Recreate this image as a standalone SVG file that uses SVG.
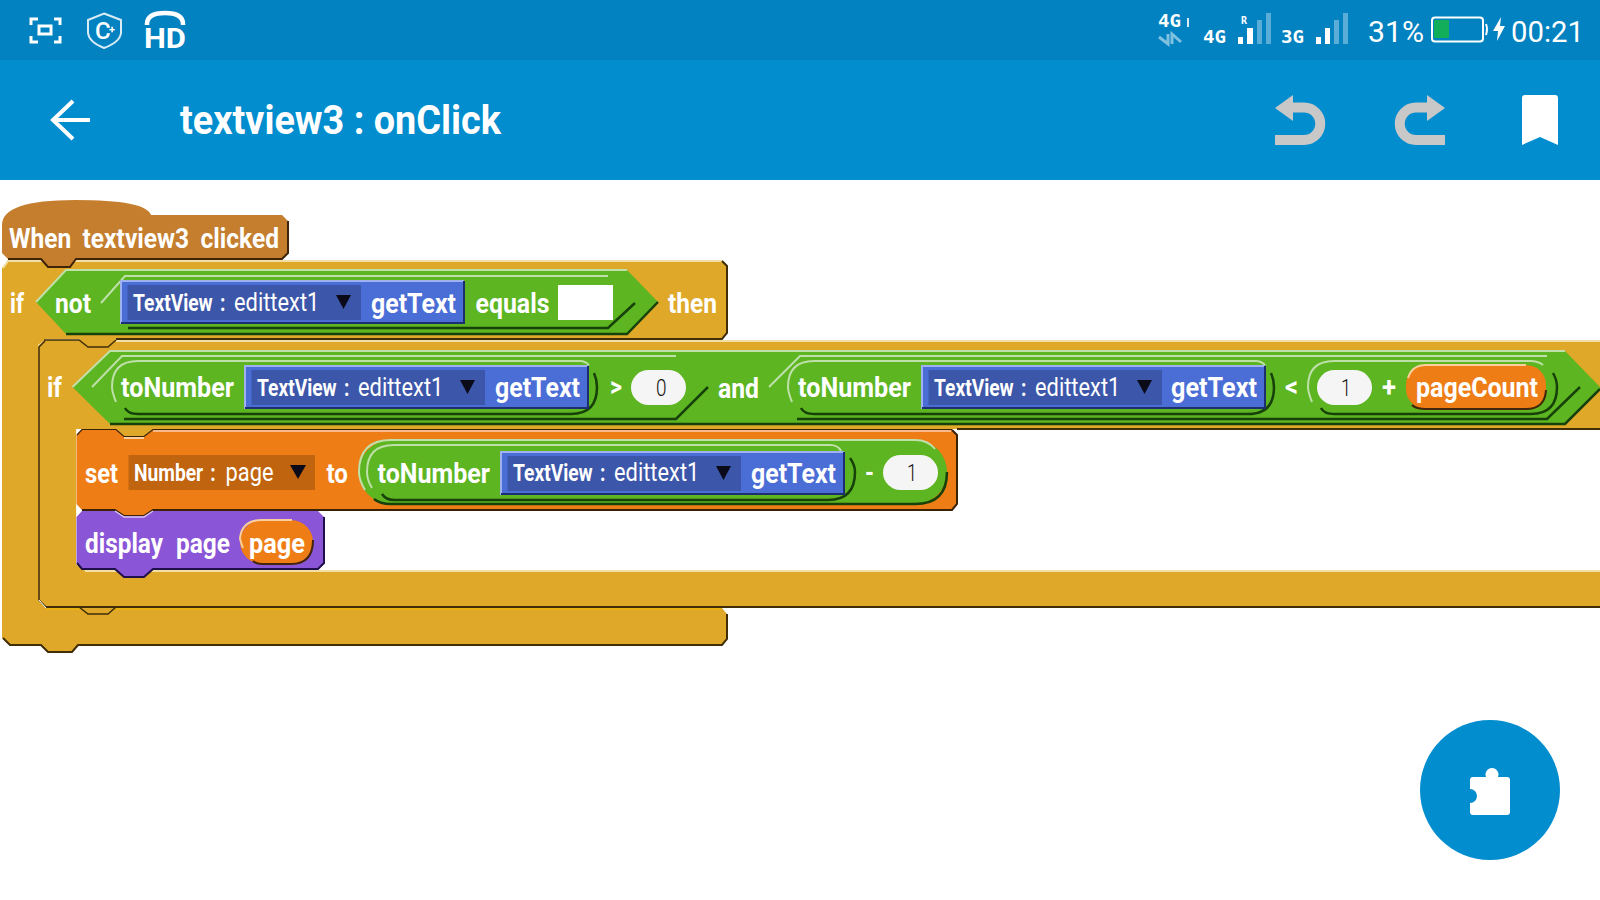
<svg xmlns="http://www.w3.org/2000/svg" width="1600" height="900" viewBox="0 0 1600 900">
<defs>
<style>
text{font-family:Roboto,"Liberation Sans",sans-serif}
.t{font-size:28px;font-weight:700;fill:#fff}
.r{font-size:26px;font-weight:400;fill:#fff}
.b{font-size:24px;font-weight:700;fill:#fff;word-spacing:3px}
.n{font-size:24px;font-weight:300;fill:#111}
.li{fill:none;stroke:#bfe0a8;stroke-width:2}
.dk{fill:none;stroke:#17400a;stroke-width:2.500}
.gl{fill:none;stroke:#f2dfa6;stroke-width:2}
.gd{fill:none;stroke:#3f2e08;stroke-width:2}
.gold{fill:#dfa829}
.gr{fill:#5cb521}
.blue{fill:#4a6dd6}
.bd{fill:#3c56a9}
.bl{fill:none;stroke:#9fb2ee;stroke-width:2}
.bk{fill:none;stroke:#1d2f70;stroke-width:2}
.ol{fill:#ee7d16}
.tri{fill:#0a0a18}
.pill{fill:#f5f5f5}
.ic{fill:none;stroke:#fff;stroke-width:3}
.ug{fill:none;stroke:#c8c8c8;stroke-width:10}
.st{font-weight:700;fill:#fff;font-family:"DejaVu Sans Mono","Liberation Mono",monospace}
</style>
<g id="getTextBlock">
<rect class="blue" x="0" y="0" width="344" height="44"/>
<rect class="bd" x="7.500" y="5" width="233.500" height="35"/>
<path class="bl" d="M1,44V1H344"/>
<path class="bk" d="M344,1V43H1"/>
<path class="tri" d="M216,15h15l-7.500,14z"/>
</g>
</defs>

<rect width="1600" height="900" fill="#fff"/>

<g id="status-bar">
<rect width="1600" height="60" fill="#0282c0"/>
<path class="ic" d="M31,25V19h7M54,19h6v6M60,36v6h-6M38,42h-7v-6"/>
<rect class="ic" x="39" y="26" width="12" height="8"/>
<path d="M104,13.500 121,20V33Q120,42 104,48 89,42 88,33V20Z" fill="none" stroke="#fff" stroke-opacity=".85" stroke-width="2"/>
<text x="95" y="39" font-size="24" fill="#fff" style="font-weight:500">C</text>
<text x="109" y="33" font-size="11" fill="#fff" style="font-weight:700">+</text>
<path d="M147,25V24Q147,13 165,13 183,13 183,24V25" fill="none" stroke="#fff" stroke-width="4.500"/>
<text x="144" y="48" font-size="27" fill="#fff" style="font-weight:700" textLength="42" lengthAdjust="spacingAndGlyphs">HD</text>
<text class="st" x="1158" y="27" font-size="17" textLength="23" lengthAdjust="spacingAndGlyphs">4G</text>
<rect x="1187" y="18" width="2" height="9" fill="#fff" opacity=".85"/>
<path d="M1159,37 1168,44V34M1172,44V34L1181,42" fill="none" stroke="#fff" stroke-opacity=".5" stroke-width="3"/>
<text class="st" x="1203" y="43" font-size="17" textLength="23" lengthAdjust="spacingAndGlyphs">4G</text>
<text class="st" x="1241" y="24" font-size="10" textLength="6" lengthAdjust="spacingAndGlyphs">R</text>
<g fill="#fff">
<rect x="1238" y="37" width="5" height="7"/><rect x="1247" y="28" width="6" height="16"/>
<rect x="1257" y="20" width="5" height="24" opacity=".35"/><rect x="1266" y="13" width="5" height="31" opacity=".35"/>
</g>
<text class="st" x="1281" y="43" font-size="17" textLength="23" lengthAdjust="spacingAndGlyphs">3G</text>
<g fill="#fff">
<rect x="1316" y="37" width="5" height="7"/><rect x="1325" y="28" width="5" height="16"/>
<rect x="1334" y="20" width="5" height="24" opacity=".35"/><rect x="1343" y="13" width="5" height="31" opacity=".35"/>
</g>
<text x="1368" y="42" font-size="30" fill="#fff" textLength="56" lengthAdjust="spacingAndGlyphs">31%</text>
<rect x="1432" y="17.500" width="51" height="24" rx="3" fill="none" stroke="#fff" stroke-width="2"/>
<rect x="1434" y="20" width="15" height="18" fill="#13ae5a"/>
<path d="M1486,24q2,5 0,11" fill="none" stroke="#fff" stroke-width="2"/>
<path d="M1501,17 1493,31h5l-1,10 8,-15h-5z" fill="#fff"/>
<text x="1511" y="42" font-size="30" fill="#fff" textLength="73" lengthAdjust="spacingAndGlyphs">00:21</text>
</g>

<g id="app-bar">
<rect y="60" width="1600" height="120" fill="#028dce"/>
<path d="M73,101 53,120 73,139M53,120H90" fill="none" stroke="#fff" stroke-width="4"/>
<text x="180" y="134" font-size="40" fill="#fff" style="font-weight:700" textLength="321" lengthAdjust="spacingAndGlyphs">textview3 : onClick</text>
<g id="undo">
<path class="ug" d="M1291,107.500H1304A16.250,16.250 0 0 1 1304,140H1275"/>
<path d="M1275,108 1293,95V121Z" fill="#c8c8c8"/>
</g>
<g id="redo">
<path class="ug" d="M1429,107.500H1416A16.250,16.250 0 0 0 1416,140H1445"/>
<path d="M1445,108 1427,95V121Z" fill="#c8c8c8"/>
</g>
<path id="bookmark" d="M1525,95H1555Q1558,95 1558,98V145L1540,137 1522,145V98Q1522,95 1525,95Z" fill="#fff"/>
</g>

<g id="if-outer">
<path class="gold" d="M8,260H722L727,266V333L722,339H116L108,347H88L79,339H46L38,345V600L46,608H722L727,614V639L722,645H78L72,652H48L41,645H10L2,638V268Z"/>
<path class="gl" d="M3,268 8,261H722"/>
<path class="gd" d="M722,261 727,266V333L722,339H116"/>
<path class="gd" d="M727,614V639L722,645H78L72,652H48L41,645H10L3,638"/>
<path d="M46,609H722" stroke="#e8b010" stroke-width="2"/>
<text class="t" x="10" y="313" textLength="14" lengthAdjust="spacingAndGlyphs">if</text>
<text class="t" x="668" y="313" textLength="49" lengthAdjust="spacingAndGlyphs">then</text>
</g>

<g id="not-equals">
<path class="gr" d="M36,302 66,270H627L658,302 627,334H66Z"/>
<path class="li" d="M36,302 66,270H627"/>
<path class="dk" d="M658,302 627,334H66"/>
<path class="li" d="M101,303 125,276H608"/>
<path class="dk" d="M635,303 608,328H128"/>
<text class="t" x="55" y="313" textLength="36" lengthAdjust="spacingAndGlyphs">not</text>
<use href="#getTextBlock" x="120" y="280"/>
<text class="b" transform="translate(133,311) scale(.8,1)">TextView :</text>
<text class="r" transform="translate(234,311) scale(.84,1)">edittext1</text>
<text class="t" x="371" y="313" textLength="85" lengthAdjust="spacingAndGlyphs">getText</text>
<text class="t" x="475.500" y="313" textLength="74" lengthAdjust="spacingAndGlyphs">equals</text>
<rect x="558" y="285" width="55" height="35" fill="#fff"/>
</g>

<g id="if-inner">
<path class="gold" d="M44,340H79L88,347H108L116,340H1600V429H153L144,437H124L116,429H76.500V564L84,570H1600V607H46L38,600V346Z"/>
<path d="M77,429V564L85,570" fill="none" stroke="#fff" stroke-width="1.500"/>
<path class="gl" d="M116,341H1600M85,571H1600"/>
<path class="gd" d="M957,429H1600M46,607H1600"/>
<path d="M45,341 39,347V600L46,607" fill="none" stroke="#3f2e08" stroke-width="1.500"/>
<path d="M44,340H79L88,347H108L116,340" fill="#dfa829" stroke="#3f2e08" stroke-width="1.500"/>
<path d="M46,608 39,600" stroke="#fff" stroke-width="1"/>
<path class="gold" d="M79,608 88,614H108L116,608Z"/>
<path d="M79,607 88,614H108L116,607" fill="none" stroke="#3f2e08" stroke-width="1.500"/>
<text class="t" x="47" y="397" textLength="15" lengthAdjust="spacingAndGlyphs">if</text>
</g>

<g id="and-condition">
<path class="gr" d="M72.500,387 110,351H1565L1600,387 1600,389 1565,424H110Z"/>
<path class="li" d="M72.500,387 110,351H1565"/>
<path class="dk" d="M110,424H1565L1600,389"/>
<path class="li" d="M92,387 122,356H676"/>
<path class="dk" d="M708,387 676,419H124"/>
<path class="li" d="M769,387 800,356H1547"/>
<path class="dk" d="M1580,387 1547,419H797"/>
<text class="t" x="718" y="398" textLength="41" lengthAdjust="spacingAndGlyphs">and</text>
</g>

<g id="greater-than">
<path class="li" d="M116,402Q112,392 112,387 112,361 138,361H580Q585,361 589,365"/>
<path class="dk" d="M594,373Q597,380 597,387 597,414 571,414H138Q128,414 125,408"/>
<text class="t" x="121" y="397" textLength="113" lengthAdjust="spacingAndGlyphs">toNumber</text>
<use href="#getTextBlock" x="244" y="365"/>
<text class="b" transform="translate(257,396) scale(.8,1)">TextView :</text>
<text class="r" transform="translate(358,396) scale(.84,1)">edittext1</text>
<text class="t" x="495" y="397" textLength="85" lengthAdjust="spacingAndGlyphs">getText</text>
<text class="t" x="610" y="396" textLength="12" lengthAdjust="spacingAndGlyphs">&gt;</text>
<rect class="pill" x="631" y="370" width="55" height="35" rx="17.500"/>
<text class="n" x="656" y="396" textLength="10.500" lengthAdjust="spacingAndGlyphs">0</text>
</g>

<g id="less-than">
<path class="li" d="M792,402Q788,392 788,387 788,361 814,361H1256Q1261,361 1265,365"/>
<path class="dk" d="M1271,373Q1274,380 1274,387 1274,414 1248,414H814Q804,414 801,408"/>
<text class="t" x="798" y="397" textLength="113" lengthAdjust="spacingAndGlyphs">toNumber</text>
<use href="#getTextBlock" x="921" y="365"/>
<text class="b" transform="translate(934,396) scale(.8,1)">TextView :</text>
<text class="r" transform="translate(1035,396) scale(.84,1)">edittext1</text>
<text class="t" x="1171" y="397" textLength="86" lengthAdjust="spacingAndGlyphs">getText</text>
<text class="t" x="1285" y="396" textLength="13" lengthAdjust="spacingAndGlyphs">&lt;</text>
</g>

<g id="plus">
<path class="li" d="M1312,402Q1308,392 1308,387 1308,361 1334,361H1530Q1538,361 1543,365"/>
<path class="dk" d="M1553,373Q1557,380 1557,387 1557,414 1531,414H1334Q1324,414 1321,408"/>
<rect class="pill" x="1317" y="370" width="55" height="35" rx="17.500"/>
<text class="n" x="1341" y="396" textLength="10" lengthAdjust="spacingAndGlyphs">1</text>
<text class="t" x="1382" y="397" textLength="14" lengthAdjust="spacingAndGlyphs">+</text>
</g>

<g id="pageCount">
<rect class="ol" x="1406" y="365" width="140" height="44" rx="20"/>
<path d="M1408,378Q1412,365 1426,365H1526" fill="none" stroke="#f8cf9d" stroke-width="2"/>
<path d="M1546,390Q1545,409 1526,409H1426Q1416,409 1412,405" fill="none" stroke="#42250a" stroke-width="2"/>
<text class="t" x="1416" y="397" textLength="122" lengthAdjust="spacingAndGlyphs">pageCount</text>
</g>

<g id="set-page">
<path class="ol" d="M82,429H116L124,437H144L153,429H952L957,435V504L952,510H153L144,516H124L115,510H82L76.500,504V435Z"/>
<path d="M153,431H951" fill="none" stroke="#f8b98a" stroke-width="2"/>
<path d="M124,438H144" fill="none" stroke="#f8cf9d" stroke-width="2"/>
<path d="M77,435 82,429.500H116L124,436.500H144L153,429.500H952" fill="none" stroke="#3a2206" stroke-width="1.200"/>
<path d="M952,430 957,435V504L952,510H153L144,516H124L115,510H82" fill="none" stroke="#3a2206" stroke-width="2"/>
<text class="t" x="85" y="483" textLength="33" lengthAdjust="spacingAndGlyphs">set</text>
<rect x="128.500" y="455" width="186.500" height="35" fill="#c1640f"/>
<text class="b" transform="translate(134,481) scale(.8,1)">Number :</text>
<text class="r" transform="translate(225.500,481) scale(.84,1)">page</text>
<path class="tri" d="M290,465h16l-8,14z"/>
<text class="t" x="326.500" y="483" textLength="21.500" lengthAdjust="spacingAndGlyphs">to</text>
</g>

<g id="minus">
<rect class="gr" x="359" y="440" width="588" height="64" rx="32"/>
<path class="li" d="M365,490Q359,480 359,472 359,440 391,440H915Q928,440 935,449"/>
<path class="dk" d="M947,472Q947,504 915,504H391Q380,504 374,499"/>
<path class="li" d="M372,488Q367,480 367,472 367,445 394,445H830Q838,445 841,451"/>
<path class="dk" d="M850,458Q855,465 855,472 855,500 828,500H394Q386,500 382,494"/>
<text class="t" x="377.500" y="483" textLength="112.500" lengthAdjust="spacingAndGlyphs">toNumber</text>
<use href="#getTextBlock" x="500" y="451"/>
<text class="b" transform="translate(513,481) scale(.8,1)">TextView :</text>
<text class="r" transform="translate(614,481) scale(.84,1)">edittext1</text>
<text class="t" x="751" y="483" textLength="85" lengthAdjust="spacingAndGlyphs">getText</text>
<text class="t" x="865" y="482" textLength="9" lengthAdjust="spacingAndGlyphs">-</text>
<rect class="pill" x="883" y="455" width="55" height="35" rx="17.500"/>
<text class="n" x="907" y="481" textLength="10" lengthAdjust="spacingAndGlyphs">1</text>
</g>

<g id="display-page">
<path d="M82,511H115L124,516H144L153,511H318L324,517V563L318,569H153L144,577H124L115,569H82L76.500,563V517Z" fill="#8a55d6"/>
<path d="M115,511 124,517H144L153,511" fill="none" stroke="#d8c4f4" stroke-width="1.500"/>
<path d="M324,517V563L318,569H153L144,577H124L115,569H82L77,563" fill="none" stroke="#1f0f4a" stroke-width="2"/>
<text class="t" x="85" y="553" textLength="78" lengthAdjust="spacingAndGlyphs">display</text>
<text class="t" x="176" y="553" textLength="54" lengthAdjust="spacingAndGlyphs">page</text>
<rect class="ol" x="240" y="520" width="73" height="44" rx="22"/>
<path d="M243,548Q240,540 240,538 242,520 262,520H292" fill="none" stroke="#f8cf9d" stroke-width="2"/>
<path d="M313,540Q313,564 291,564H262Q256,564 253,561" fill="none" stroke="#42250a" stroke-width="2"/>
<text class="t" x="249" y="553" textLength="56" lengthAdjust="spacingAndGlyphs">page</text>
</g>

<g id="when-clicked">
<path d="M2,225Q2,200 75,200 146,200 151,215H282L288,221V253L282,259H76L70,267H48L41,259H8L2,253Z" fill="#c47e2e"/>
<path d="M288,221V253L282,259H76L70,267H48L41,259H8" fill="none" stroke="#3f2408" stroke-width="2"/>
<text class="t" x="9" y="248" word-spacing="6" textLength="270" lengthAdjust="spacingAndGlyphs">When textview3 clicked</text>
</g>

<g id="fab">
<circle cx="1490" cy="790" r="70" fill="#028dce"/>
<path d="M1473,777H1486A6.500,6.500 0 1 1 1498,777H1507Q1510,777 1510,780V812Q1510,815 1507,815H1473Q1470,815 1470,812V803A7,7 0 0 0 1470,789V780Q1470,777 1473,777Z" fill="#fff"/>
</g>
</svg>
